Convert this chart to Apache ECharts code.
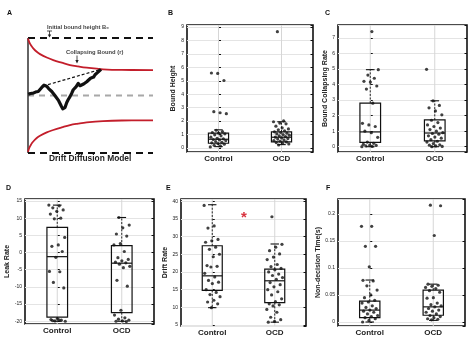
<!DOCTYPE html>
<html>
<head>
<meta charset="utf-8">
<script src="https://cdn.jsdelivr.net/npm/echarts@6/dist/echarts.min.js"></script>
<style>
  html, body { margin: 0; padding: 0; background: #fff; }
  #chart { width: 474px; height: 343px; }
</style>
</head>
<body>
<div id="chart"></div>
<script>
// ---------- data ----------
const categories = ['Control', 'OCD'];

// Drift diffusion schematic (normalised time 0..1, evidence -1..1)
const upperBound = [[0, 0.99], [0.01, 0.93], [0.025, 0.87], [0.042, 0.82], [0.07, 0.76], [0.096, 0.72],
  [0.15, 0.66], [0.202, 0.615], [0.27, 0.57], [0.336, 0.53], [0.4, 0.505], [0.47, 0.483],
  [0.6, 0.456], [0.75, 0.445], [1, 0.443]];
const lowerBound = [[0, -0.98], [0.01, -0.91], [0.025, -0.85], [0.042, -0.8], [0.07, -0.74], [0.096, -0.7],
  [0.15, -0.64], [0.202, -0.6], [0.27, -0.555], [0.336, -0.515], [0.4, -0.49], [0.47, -0.468],
  [0.6, -0.445], [0.75, -0.435], [1, -0.433]];
const evidencePath = [[0.002, 0.02], [0.02, 0.035], [0.042, 0.04], [0.06, 0.06], [0.082, 0.07], [0.096, 0.1],
  [0.11, 0.14], [0.128, 0.18], [0.14, 0.15], [0.15, 0.16], [0.165, 0.12], [0.176, 0.11], [0.19, 0.07],
  [0.202, 0.04], [0.215, 0.0], [0.23, -0.02], [0.245, -0.09], [0.256, -0.12], [0.268, -0.19],
  [0.278, -0.23], [0.288, -0.2], [0.296, -0.21], [0.31, -0.12], [0.322, -0.07], [0.336, -0.02],
  [0.35, 0.04], [0.362, 0.1], [0.374, 0.12], [0.384, 0.15], [0.402, 0.21], [0.416, 0.17], [0.43, 0.14],
  [0.445, 0.2], [0.456, 0.18], [0.47, 0.24], [0.482, 0.27], [0.5, 0.3], [0.51, 0.33], [0.525, 0.32],
  [0.536, 0.36], [0.55, 0.38], [0.562, 0.41], [0.575, 0.43], [0.584, 0.456]];
const driftLine = [[0.122, 0.165], [0.584, 0.456]];

// Model parameters per participant
const boundHeightControl = [0.08, 0.15, 0.2, 0.28, 0.32, 0.38, 0.42, 0.48, 0.55, 0.6, 0.63, 0.68, 0.72, 0.8,
  0.9, 0.98, 1.05, 1.1, 1.15, 1.22, 1.32, 2.55, 2.62, 2.7, 5.02, 5.55, 5.58];
const boundHeightOCD = [0.22, 0.3, 0.35, 0.4, 0.45, 0.5, 0.55, 0.6, 0.66, 0.7, 0.75, 0.8, 0.85, 0.9, 0.95,
  1.0, 1.05, 1.1, 1.15, 1.2, 1.28, 1.35, 1.42, 1.5, 1.62, 1.8, 1.85, 1.95, 2.02, 8.65];
const collapseControl = [0.0, 0.02, 0.05, 0.08, 0.1, 0.15, 0.22, 0.3, 0.6, 0.9, 1.0, 1.3, 1.4, 1.5, 2.8,
  3.7, 3.9, 4.15, 4.2, 4.4, 4.6, 4.95, 7.4];
const collapseOCD = [0.0, 0.02, 0.05, 0.1, 0.12, 0.2, 0.3, 0.35, 0.45, 0.55, 0.62, 0.7, 0.8, 0.85, 0.9, 1.0,
  1.1, 1.2, 1.3, 1.4, 1.55, 1.7, 2.05, 2.3, 2.5, 2.65, 2.95, 4.97];
const leakControl = [13.8, 13.6, 13.0, 12.4, 12.0, 11.2, 10.0, 9.8, 4.4, 2.2, 1.8, 0.3, -1.4, -5.5, -5.6,
  -8.7, -10.3, -19.2, -19.5, -19.7, -19.9, -20.0, -19.6, -19.8];
const leakOCD = [10.2, 8.0, 7.2, 5.4, 4.8, 2.6, 2.2, 0.3, -1.5, -2.0, -2.4, -2.8, -3.0, -3.4, -4.0, -4.4,
  -8.1, -9.8, -16.8, -18.2, -19.0, -19.4, -19.7, -19.9, -20.0, -20.1];
const driftControl = [38.8, 33.0, 32.4, 29.2, 28.8, 28.4, 27.0, 26.4, 25.0, 24.3, 21.8, 21.6, 21.4, 19.6,
  18.6, 17.6, 17.1, 16.7, 15.0, 14.2, 13.6, 13.0, 12.0, 11.5, 11.0, 9.9];
const driftOCD = [35.6, 27.8, 27.0, 26.0, 25.1, 24.2, 23.5, 22.1, 21.5, 21.0, 20.6, 20.0, 19.4, 19.0, 18.4,
  17.9, 17.0, 16.4, 15.8, 15.0, 14.4, 13.5, 12.4, 11.6, 11.0, 10.7, 10.4, 9.4, 8.6, 7.2, 6.5, 6.0, 5.8];
const ndtControl = [0.177, 0.177, 0.14, 0.14, 0.102, 0.077, 0.076, 0.067, 0.059, 0.05, 0.045, 0.04, 0.037,
  0.035, 0.03, 0.027, 0.025, 0.022, 0.02, 0.018, 0.015, 0.012, 0.01, 0.008, 0.006, 0.003, 0.0];
const ndtOCD = [0.216, 0.215, 0.16, 0.07, 0.068, 0.066, 0.064, 0.062, 0.058, 0.055, 0.045, 0.044, 0.035,
  0.032, 0.03, 0.028, 0.025, 0.022, 0.02, 0.018, 0.015, 0.012, 0.01, 0.008, 0.006, 0.005, 0.004];

// Box statistics: [lower whisker, Q1, median, Q3, upper whisker]
const boundHeightBox = [[0.1, 0.35, 0.65, 1.1, 1.35], [0.25, 0.45, 0.8, 1.2, 1.95]];
const collapseBox = [[0, 0.28, 0.95, 2.8, 4.95], [0, 0.38, 0.88, 1.72, 2.95]];
const leakBox = [[-20, -18.8, -1.2, 7.3, 13.8], [-20, -17.5, -3.1, 2.0, 10.2]];
const driftBox = [[9.9, 14.8, 18.9, 27.4, 39.0], [5.8, 11.3, 17.5, 20.8, 27.9]];
const ndtBox = [[0.0, 0.008, 0.022, 0.0385, 0.0776], [0.003, 0.0125, 0.028, 0.059, 0.07]];

// ---------- layout ----------
const FONT = '"Liberation Sans", Arial, Helvetica, sans-serif';
const panels = [
  { letter: 'B', name: 'Bound Height', grid: { left: 187, top: 25, width: 126, height: 127 },
    min: -0.3, max: 9.15, split: 9, nameGap: 10, control: boundHeightControl, ocd: boundHeightOCD, box: boundHeightBox },
  { letter: 'C', name: 'Bound Collapsing Rate', grid: { left: 338, top: 25, width: 129, height: 127 },
    min: -0.34, max: 7.82, split: 8, nameGap: 6, control: collapseControl, ocd: collapseOCD, box: collapseBox },
  { letter: 'D', name: 'Leak Rate', grid: { left: 25, top: 199, width: 129, height: 125 },
    min: -20.8, max: 15.58, split: 7, nameGap: 10, control: leakControl, ocd: leakOCD, box: leakBox },
  { letter: 'E', name: 'Drift Rate', grid: { left: 181, top: 199, width: 125, height: 127 },
    min: 4.72, max: 40.62, split: 7, nameGap: 11, control: driftControl, ocd: driftOCD, box: driftBox },
  { letter: 'F', name: 'Non-decision Time(s)', grid: { left: 338, top: 199, width: 127, height: 127 },
    min: -0.0074, max: 0.2275, split: 5, nameGap: 14, control: ndtControl, ocd: ndtOCD, box: ndtBox }
];

// deterministic horizontal spread for the dots
function spread(i) { return (((i * 0.61803) % 1) - 0.5) * 0.26; }

function renderBox(params, api) {
  const ci = api.value(0);
  const lo = api.coord([ci, api.value(1)]);
  const q1 = api.coord([ci, api.value(2)]);
  const md = api.coord([ci, api.value(3)]);
  const q3 = api.coord([ci, api.value(4)]);
  const hi = api.coord([ci, api.value(5)]);
  const bw = api.size([1, 0])[0] * 0.32;
  const cw = bw * 0.42;
  const x = q1[0];
  const cs = params.coordSys;
  const black = { stroke: '#111', lineWidth: 1.1, fill: null };
  return {
    type: 'group',
    children: [
      { type: 'line', shape: { x1: x, y1: cs.y, x2: x, y2: cs.y + cs.height },
        style: { stroke: '#d6d6d6', lineWidth: 1 }, z2: 0 },
      { type: 'line', shape: { x1: x, y1: q3[1], x2: x, y2: hi[1] },
        style: { stroke: '#111', lineWidth: 0.9, lineDash: [2, 1.6] }, z2: 1 },
      { type: 'line', shape: { x1: x, y1: q1[1], x2: x, y2: lo[1] },
        style: { stroke: '#111', lineWidth: 0.9, lineDash: [2, 1.6] }, z2: 1 },
      { type: 'line', shape: { x1: x - cw / 2, y1: hi[1], x2: x + cw / 2, y2: hi[1] }, style: black, z2: 2 },
      { type: 'line', shape: { x1: x - cw / 2, y1: lo[1], x2: x + cw / 2, y2: lo[1] }, style: black, z2: 2 },
      { type: 'rect', shape: { x: x - bw / 2, y: q3[1], width: bw, height: q1[1] - q3[1] },
        style: { stroke: '#111', lineWidth: 1.2, fill: 'rgba(0,0,0,0)' }, z2: 2 },
      { type: 'line', shape: { x1: x - bw / 2, y1: md[1], x2: x + bw / 2, y2: md[1] },
        style: { stroke: '#111', lineWidth: 1.2 }, z2: 2 }
    ]
  };
}

const grids = [{ left: 28, top: 38, width: 125, height: 115, show: false }];
const xAxes = [{ type: 'value', gridIndex: 0, min: 0, max: 1, show: false }];
const yAxes = [{ type: 'value', gridIndex: 0, min: -1, max: 1, show: false }];

function schemLine(data, color, width, dash, extra) {
  return Object.assign({
    type: 'line', xAxisIndex: 0, yAxisIndex: 0, data: data, symbol: 'none', clip: false, silent: true,
    lineStyle: { color: color, width: width, type: dash || 'solid' }
  }, extra || {});
}

const series = [
  schemLine([[0, 0], [1, 0]], '#a8a8a8', 1.8, [6, 5]),
  schemLine([[0, 1], [1, 1]], '#111', 1.8, [7, 5]),
  schemLine([[0, -1], [1, -1]], '#111', 1.8, [7, 5]),
  schemLine([[0, -1], [0, 1]], '#111', 1.3),
  schemLine(upperBound, '#c31e2b', 1.8, null, { smooth: 0.4 }),
  schemLine(lowerBound, '#c31e2b', 1.8, null, { smooth: 0.4 }),
  schemLine(driftLine, '#111', 1.2, [3, 2]),
  schemLine(evidencePath, '#111', 3.2, null, { lineStyle: { color: '#111', width: 3.2, join: 'round' } })
];

panels.forEach(function (p, k) {
  const g = k + 1;
  grids.push(Object.assign({ show: true, borderColor: '#111', borderWidth: 1.6, backgroundColor: 'rgba(0,0,0,0)' }, p.grid));
  const catIdx = xAxes.length;
  xAxes.push({
    type: 'category', gridIndex: g, data: categories,
    axisLine: { show: false }, axisTick: { show: false }, splitLine: { show: false },
    axisLabel: { fontSize: 8, fontWeight: 'bold', color: '#222', margin: 3, fontFamily: FONT }
  });
  const valIdx = xAxes.length;
  xAxes.push({ type: 'value', gridIndex: g, min: -0.5, max: 1.5, show: false });
  const yIdx = yAxes.length;
  yAxes.push({
    type: 'value', gridIndex: g, min: p.min, max: p.max, splitNumber: p.split,
    name: p.name, nameLocation: 'middle', nameRotate: 90, nameGap: p.nameGap,
    nameTextStyle: { fontSize: 7, fontWeight: 'bold', color: '#222', fontFamily: FONT },
    axisLine: { show: false },
    axisTick: { show: true, inside: true, length: 2.5, lineStyle: { color: '#111' } },
    axisLabel: { fontSize: 5, color: '#222', margin: 3, showMinLabel: false, showMaxLabel: false, fontFamily: FONT },
    splitLine: { show: true, lineStyle: { color: '#e4e4e4', width: 1 } }
  });
  yAxes.push({
    type: 'value', gridIndex: g, min: p.min, max: p.max, splitNumber: p.split, position: 'right',
    axisLine: { show: false }, axisLabel: { show: false }, splitLine: { show: false },
    axisTick: { show: true, inside: true, length: 2.5, lineStyle: { color: '#111' } }
  });

  series.push({
    type: 'custom', xAxisIndex: catIdx, yAxisIndex: yIdx, renderItem: renderBox, silent: true, z: 3,
    data: p.box.map(function (b, i) { return [i].concat(b); }),
    encode: { x: 0, y: [1, 2, 3, 4, 5] }
  });
  const pts = [];
  [p.control, p.ocd].forEach(function (arr, ci) {
    arr.forEach(function (v, i) { pts.push([ci + spread(i + ci * 7), v]); });
  });
  series.push({
    type: 'scatter', xAxisIndex: valIdx, yAxisIndex: yIdx, data: pts, symbolSize: 3.2, silent: true, z: 4,
    itemStyle: { color: '#111' }
  });
});

// letters, schematic annotations and the significance mark
const graphic = [];
[['A', 10, 14], ['B', 171, 14], ['C', 328, 14], ['D', 9, 189], ['E', 169, 189], ['F', 329, 189]].forEach(function (l) {
  graphic.push({ type: 'text', left: l[1] - 3, top: l[2] - 4,
    style: { text: l[0], font: 'bold 7px ' + FONT, fill: '#111' } });
});
graphic.push(
  { type: 'text', left: 47, top: 24, style: { text: 'Initial bound height B\u2080', font: 'bold 5.8px ' + FONT, fill: '#444' } },
  { type: 'line', shape: { x1: 47, y1: 31, x2: 52, y2: 31 }, style: { stroke: '#222', lineWidth: 0.8 } },
  { type: 'line', shape: { x1: 49.5, y1: 31, x2: 49.5, y2: 36 }, style: { stroke: '#222', lineWidth: 0.8 } },
  { type: 'polygon', shape: { points: [[47.8, 34.5], [51.2, 34.5], [49.5, 37.5]] }, style: { fill: '#222' } },
  { type: 'text', left: 66, top: 49, style: { text: 'Collapsing Bound (r)', font: 'bold 5.8px ' + FONT, fill: '#444' } },
  { type: 'line', shape: { x1: 77, y1: 55.5, x2: 77, y2: 61 }, style: { stroke: '#222', lineWidth: 0.8 } },
  { type: 'polygon', shape: { points: [[75.3, 60], [78.7, 60], [77, 63.5]] }, style: { fill: '#222' } },
  { type: 'text', left: 49, top: 155, style: { text: 'Drift Diffusion Model', font: 'bold 8.4px ' + FONT, fill: '#222' } },
  { type: 'text', left: 241, top: 210, style: { text: '*', font: 'bold 15px ' + FONT, fill: '#d8323e' } }
);

const chart = echarts.init(document.getElementById('chart'), null, { renderer: 'canvas' });
chart.setOption({
  animation: false,
  backgroundColor: '#fff',
  textStyle: { fontFamily: FONT },
  grid: grids,
  xAxis: xAxes,
  yAxis: yAxes,
  series: series,
  graphic: graphic
});
</script>
</body>
</html>
